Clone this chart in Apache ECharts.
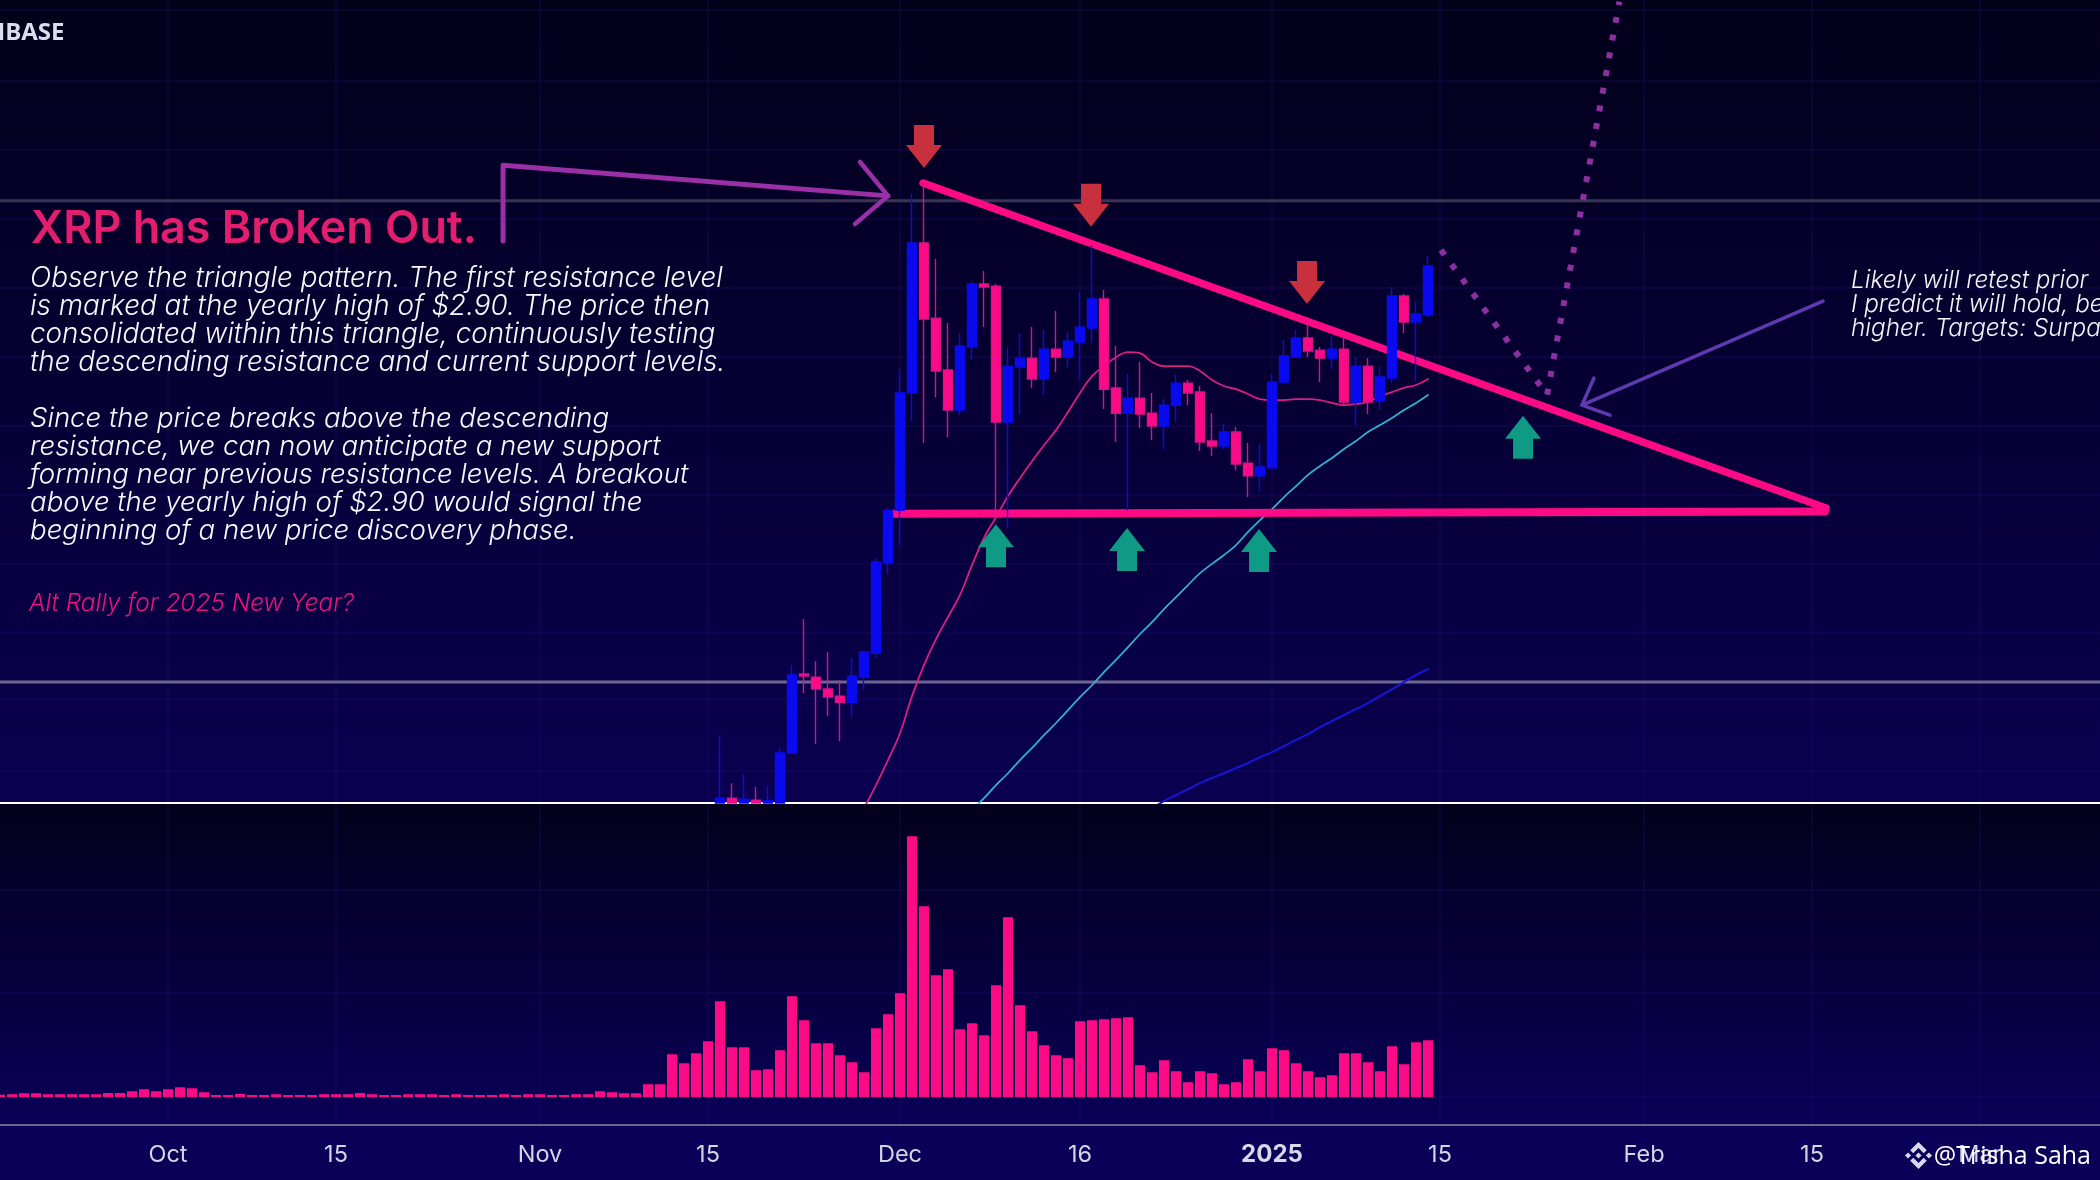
<!DOCTYPE html>
<html>
  <head>
    <meta charset="utf-8" />
    <title>XRP has Broken Out</title>
    <script src="https://cdn.jsdelivr.net/npm/echarts/dist/echarts.min.js"></script>
    <style>
      html, body { margin: 0; padding: 0; background: #0a0058; }
    </style>
  </head>
  <body>
    <div id="main" style="width: 2100px; height: 1180px;"></div>
    <script type="text/javascript">
      // daily candles from 2024-11-16: [open, close, low, high]
      var candleStart = '2024-11-16';
      var candles = [
        [0.980, 1.033, 0.965, 1.230], [1.033, 0.990, 0.965, 1.080], [0.990, 1.030, 0.980, 1.108],
        [1.027, 0.990, 0.980, 1.068], [0.990, 1.025, 0.980, 1.071], [0.980, 1.174, 0.965, 1.193],
        [1.174, 1.418, 1.174, 1.449], [1.421, 1.415, 1.361, 1.593], [1.411, 1.374, 1.202, 1.461],
        [1.374, 1.349, 1.290, 1.490], [1.352, 1.333, 1.211, 1.402], [1.333, 1.415, 1.286, 1.471],
        [1.411, 1.490, 1.371, 1.493], [1.486, 1.771, 1.471, 1.783], [1.768, 1.933, 1.733, 1.940],
        [1.933, 2.299, 1.824, 2.374], [2.299, 2.768, 2.211, 2.921], [2.768, 2.530, 2.143, 2.958],
        [2.533, 2.368, 2.286, 2.718], [2.371, 2.246, 2.161, 2.518], [2.246, 2.446, 2.230, 2.486],
        [2.443, 2.640, 2.402, 2.649], [2.640, 2.630, 2.505, 2.680], [2.633, 2.208, 1.933, 2.640],
        [2.208, 2.383, 1.877, 2.440], [2.380, 2.408, 2.233, 2.486], [2.408, 2.343, 2.315, 2.505],
        [2.343, 2.436, 2.293, 2.496], [2.436, 2.411, 2.365, 2.555], [2.411, 2.461, 2.380, 2.490],
        [2.458, 2.505, 2.343, 2.615], [2.502, 2.593, 2.455, 2.761], [2.593, 2.311, 2.249, 2.621],
        [2.315, 2.236, 2.146, 2.446], [2.236, 2.283, 1.933, 2.361], [2.283, 2.233, 2.190, 2.396],
        [2.236, 2.196, 2.152, 2.299], [2.196, 2.261, 2.124, 2.280], [2.261, 2.330, 2.208, 2.358],
        [2.330, 2.299, 2.261, 2.340], [2.302, 2.146, 2.118, 2.321], [2.149, 2.133, 2.102, 2.236],
        [2.133, 2.177, 2.124, 2.202], [2.177, 2.077, 2.058, 2.193], [2.080, 2.040, 1.974, 2.143],
        [2.040, 2.068, 1.993, 2.140], [2.065, 2.333, 2.065, 2.358], [2.333, 2.415, 2.333, 2.465],
        [2.411, 2.471, 2.411, 2.496], [2.471, 2.430, 2.411, 2.511], [2.433, 2.408, 2.333, 2.443],
        [2.408, 2.436, 2.374, 2.477], [2.436, 2.271, 2.258, 2.471], [2.271, 2.383, 2.199, 2.411],
        [2.383, 2.271, 2.233, 2.408], [2.274, 2.349, 2.246, 2.380], [2.346, 2.602, 2.330, 2.630],
        [2.602, 2.521, 2.486, 2.608], [2.521, 2.546, 2.336, 2.586], [2.543, 2.696, 2.536, 2.727]
      ];

      var maPinkStart = '2024-11-28';
      var maPink = [
        1.002, 1.074, 1.152, 1.236, 1.352, 1.449, 1.530, 1.599, 1.668, 1.761, 1.846, 1.911,
        1.977, 2.033, 2.086, 2.136, 2.183, 2.240, 2.299, 2.352, 2.383, 2.411, 2.427, 2.424,
        2.396, 2.383, 2.383, 2.383, 2.368, 2.340, 2.321, 2.311, 2.296, 2.280, 2.277, 2.277,
        2.280, 2.280, 2.277, 2.268, 2.261, 2.265, 2.271, 2.290, 2.302, 2.315, 2.324, 2.343
      ];
      var maCyanStart = '2024-12-07';
      var maCyan = [
        0.996, 1.033, 1.074, 1.111, 1.152, 1.190, 1.230, 1.268, 1.308, 1.349, 1.386, 1.427, 1.465,
        1.505, 1.546, 1.583, 1.624, 1.661, 1.699, 1.736, 1.765, 1.793, 1.824, 1.865, 1.902, 1.936,
        1.974, 2.008, 2.043, 2.071, 2.096, 2.124, 2.149, 2.177, 2.199, 2.221, 2.246, 2.268, 2.293
      ];
      var maBlueStart = '2024-12-22';
      var maBlue = [
        1.002, 1.024, 1.043, 1.061, 1.080, 1.096, 1.111, 1.127, 1.143, 1.161, 1.177, 1.196,
        1.215, 1.233, 1.255, 1.274, 1.293, 1.311, 1.330, 1.352, 1.374, 1.396, 1.418, 1.436
      ];

      // daily volume from 2024-09-17 (millions)
      var volumeStart = '2024-09-17';
      var volumes = [
        9, 11, 15, 15, 11, 11, 11, 11, 11, 16, 16, 23, 31, 23, 31, 39, 35, 19, 8, 8, 12, 8, 8, 11, 8, 8, 8,
        11, 11, 11, 16, 11, 8, 8, 11, 11, 11, 8, 11, 8, 8, 8, 11, 8, 11, 11, 8, 8, 11, 11, 23, 19, 15, 15,
        51, 51, 171, 135, 175, 223, 383, 199, 199, 107, 111, 187, 403, 307, 215, 215, 167, 139, 99, 275, 331, 415,
        1043, 763, 487, 511, 271, 295, 247, 447, 719, 367, 263, 207, 167, 155, 303, 307, 311, 315, 319, 127,
        99, 147, 103, 59, 103, 95, 51, 59, 151, 103, 195, 187, 135, 103, 79, 87, 175, 175, 139, 103, 203, 131, 219, 227
      ];

      var tickDates = ['2024-09-16', '2024-10-01', '2024-10-15', '2024-11-01', '2024-11-15', '2024-12-01',
        '2024-12-16', '2025-01-01', '2025-01-15', '2025-02-01', '2025-02-15', '2025-03-01'];
      var tickLabels = ['16', 'Oct', '15', 'Nov', '15', 'Dec', '16', '2025', '15', 'Feb', '15', 'Mar'];
      var priceGrid = [3.496, 3.274, 3.058, 2.843, 2.627, 2.411, 2.196, 1.980, 1.765, 1.549, 1.343, 1.118];
      var volumeGrid = [0, 416, 828];

      // drawings, as [days from 2025-01-01, price]
      var resistanceLine = [[-29.08, 2.955], [46.17, 1.940]];
      var supportLine = [[-31.58, 1.922], [46.08, 1.929]];
      var calloutArrow = [[-64.08, 2.774], [-64.08, 3.011], [-32.0, 2.915]];
      var calloutHead = [[-34.33, 3.021], [-32.0, 2.915], [-34.75, 2.827]];
      var retestArrow = [[45.92, 2.586], [25.83, 2.261]];
      var retestHead = [[26.83, 2.346], [25.83, 2.261], [28.17, 2.230]];
      var projection = [[14.08, 2.746], [22.92, 2.293], [28.95, 3.522]];
      var redArrows = [[-29, 3.069], [-15.08, 2.886], [2.92, 2.644]];
      var greenArrows = [[-23, 1.822], [-12.08, 1.810], [-1.08, 1.807], [20.92, 2.161]];
      var levels = [2.90, 1.396];

      var headline = 'XRP has Broken Out.';
      var noteOne = ['Observe the triangle pattern. The first resistance level',
        'is marked at the yearly high of $2.90. The price then',
        'consolidated within this triangle, continuously testing',
        'the descending resistance and current support levels.'];
      var noteTwo = ['Since the price breaks above the descending',
        'resistance, we can now anticipate a new support',
        'forming near previous resistance levels. A breakout',
        'above the yearly high of $2.90 would signal the',
        'beginning of a new price discovery phase.'];
      var noteThree = 'Alt Rally for 2025 New Year?';
      var noteRight = ['Likely will retest prior', 'I predict it will hold, be', 'higher. Targets: Surpa'];

      var DAY = 86400000;
      var jan1 = Date.parse('2025-01-01');
      var xMin = -108; // 2024-09-15, axis runs in days from 2025-01-01
      var xMax = 69;
      var priceMin = 1.018;
      var priceMax = 3.527;
      var PINK = '#ff0a85';
      var BLUE = '#0a0af0';
      var GRID = 'rgba(36,20,130,0.3)';
      var logoPieces = [
        [[16.62, 13.92], [19.34, 16.64], [11.99, 23.99], [4.64, 16.64], [7.35, 13.92], [11.99, 18.58]],
        [[21.26, 9.28], [24, 12], [21.28, 14.72], [18.57, 12]],
        [[11.99, 9.28], [14.72, 12], [11.99, 14.72], [9.27, 12]],
        [[2.72, 9.28], [5.41, 12], [2.72, 14.69], [0, 12]],
        [[11.99, 0], [19.34, 7.34], [16.62, 10.06], [11.99, 5.42], [7.35, 10.08], [4.64, 7.36]]
      ];

      function dayOf(date) {
        return (Date.parse(date) - jan1) / DAY;
      }
      function fromDate(start, values) {
        var d0 = dayOf(start);
        return values.map(function (v, i) {
          return [d0 + i].concat(v);
        });
      }
      function lineSeries(data, color, width, z, dash) {
        return {
          type: 'line',
          data: data,
          z: z,
          silent: true,
          showSymbol: false,
          symbol: 'none',
          lineStyle: { color: color, width: width, cap: dash ? 'butt' : 'round', join: 'round', type: dash || 'solid' }
        };
      }
      function maSeries(start, values, color, width) {
        var s = lineSeries(fromDate(start, values), color, width, 3);
        s.smooth = 0.4;
        return s;
      }
      function arrowSeries(points, path, color) {
        return {
          type: 'scatter',
          data: points,
          z: 8,
          silent: true,
          symbol: 'path://' + path,
          symbolSize: [36, 43],
          symbolKeepAspect: false,
          itemStyle: { color: color, opacity: 1 }
        };
      }
      function gradientRect(top, height, from, to) {
        return {
          type: 'rect', z: -10, silent: true,
          shape: { x: 0, y: top, width: 2100, height: height },
          style: { fill: new echarts.graphic.LinearGradient(0, 0, 0, 1, [{ offset: 0, color: from }, { offset: 1, color: to }]) }
        };
      }
      function textItem(text, x, y, font, fill, align) {
        return {
          type: 'text', z: 20, silent: true, x: x, y: y,
          style: { text: text, font: font, fill: fill, align: align || 'left', verticalAlign: 'top', lineHeight: 28 }
        };
      }

      var myChart = echarts.init(document.getElementById('main'));

      var tickValues = tickDates.map(dayOf);
      // candlestick only drops whole boxes outside the grid, so cut the parts under the axis
      var visibleCandles = candles.map(function (c) {
        return c.map(function (v) { return Math.max(v, priceMin); });
      });
      var axisBase = {
        type: 'value',
        min: xMin,
        max: xMax,
        axisTick: { show: false, customValues: tickValues },
        splitLine: { show: true, lineStyle: { color: GRID, width: 1.5 } }
      };

      var option = {
        animation: false,
        backgroundColor: 'transparent',
        grid: [
          { left: -24, top: 0, width: 2124, height: 803, outerBoundsMode: 'none' },
          { left: -24, top: 803, width: 2124, height: 322, outerBoundsMode: 'none' }
        ],
        xAxis: [
          Object.assign({}, axisBase, {
            gridIndex: 0,
            axisLine: { show: true, onZero: false, lineStyle: { color: '#ffffff', width: 2 } },
            axisLabel: { show: false }
          }),
          Object.assign({}, axisBase, {
            gridIndex: 1,
            axisLine: { show: true, onZero: false, lineStyle: { color: '#8a889c', width: 1.5 } },
            axisLabel: {
              show: true,
              customValues: tickValues,
              hideOverlap: false,
              margin: 18,
              color: '#d4d4e4',
              fontFamily: 'Inter',
              fontSize: 23.5,
              formatter: function (value) {
                var label = tickLabels[tickValues.indexOf(value)];
                return label === '2025' ? '{year|' + label + '}' : label;
              },
              rich: { year: { fontFamily: 'Inter', fontSize: 24, fontWeight: 700, color: '#d8d8ea' } }
            }
          })
        ],
        yAxis: [
          {
            type: 'value', gridIndex: 0, min: priceMin, max: priceMax,
            axisLine: { show: false }, axisLabel: { show: false },
            axisTick: { show: false, customValues: priceGrid },
            splitLine: { show: true, lineStyle: { color: GRID, width: 1.5 } }
          },
          {
            type: 'value', gridIndex: 1, min: -112, max: 1176,
            axisLine: { show: false }, axisLabel: { show: false },
            axisTick: { show: false, customValues: volumeGrid },
            splitLine: { show: true, lineStyle: { color: GRID, width: 1.5 } }
          }
        ],
        series: [
          lineSeries([[xMin, levels[0]], [xMax, levels[0]]], '#3a3352', 3, 1),
          lineSeries([[xMin, levels[1]], [xMax, levels[1]]], '#6f6690', 3, 1),
          maSeries(maPinkStart, maPink, '#d8207f', 1.8),
          maSeries(maCyanStart, maCyan, '#2fb4d6', 1.7),
          maSeries(maBlueStart, maBlue, '#1a14d8', 2),
          lineSeries(resistanceLine, PINK, 7.5, 4),
          lineSeries(supportLine, PINK, 8, 4),
          {
            type: 'candlestick',
            data: fromDate(candleStart, visibleCandles),
            z: 5,
            silent: true,
            barWidth: 9,
            itemStyle: {
              color: BLUE,
              color0: PINK,
              borderColor: BLUE,
              borderColor0: '#d8128a',
              borderWidth: 1.4
            }
          },
          lineSeries(calloutArrow, '#9b2fa8', 5, 7),
          lineSeries(calloutHead, '#9b2fa8', 4.5, 7),
          lineSeries(retestArrow, '#5e3ab0', 3.5, 7),
          lineSeries(retestHead, '#5e3ab0', 3.5, 7),
          lineSeries(projection, '#8c2fa0', 6, 7, [6, 12]),
          arrowSeries(redArrows, 'M8,0 H28 V20 H36 L18,43 L0,20 H8 Z', '#c9303e'),
          arrowSeries(greenArrows, 'M18,0 L36,23 H28 V43 H8 V23 H0 Z', '#0e9a84'),
          {
            type: 'bar',
            xAxisIndex: 1,
            yAxisIndex: 1,
            data: fromDate(volumeStart, volumes),
            barWidth: 10,
            silent: true,
            itemStyle: { color: PINK }
          }
        ],
        graphic: [
          gradientRect(0, 803, '#03001a', '#0a0050'),
          gradientRect(803, 322, '#03001c', '#0a0058'),
          textItem('COINBASE', 64.5, 19, '700 24px "Open Sans"', '#dcdcec', 'right'),
          textItem(headline, 31, 216, '600 44.8px Inter', '#e31e6e'),
          textItem(noteOne.join('\n'), 30, 265, 'italic 300 27.85px Inter', '#f8f8fe'),
          textItem(noteTwo.join('\n'), 30, 405, 'italic 300 27.6px Inter', '#f8f8fe'),
          textItem(noteThree, 29, 590, 'italic 300 24.4px Inter', '#e8147c'),
          {
            type: 'text', z: 20, silent: true, x: 1851, y: 269,
            style: { text: noteRight.join('\n'), font: 'italic 300 24.3px Inter', fill: '#f4f4fb', lineHeight: 24, align: 'left', verticalAlign: 'top' }
          },
          {
            type: 'group', z: 21, silent: true, x: 1905, y: 1142, scaleX: 27 / 24, scaleY: 27 / 24,
            children: logoPieces.map(function (pts) {
              return { type: 'polygon', z: 21, silent: true, shape: { points: pts }, style: { fill: '#d9d9ee' } };
            })
          },
          textItem('@Trisha Saha', 2091, 1143, '400 25px "Open Sans"', '#ffffff', 'right')
        ]
      };

      myChart.setOption(option);
    </script>
  </body>
</html>
